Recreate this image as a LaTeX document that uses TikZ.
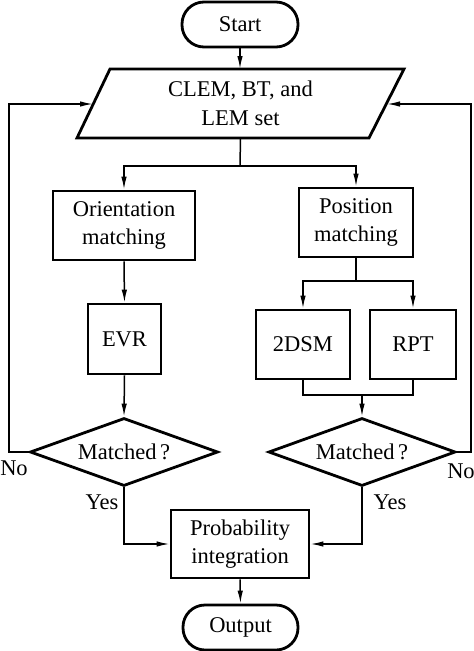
\documentclass[tikz,border=0pt]{standalone}
\usepackage{fontspec}
\setmainfont{Liberation Serif}
\usetikzlibrary{arrows.meta,shapes.geometric}
\begin{document}
\begin{tikzpicture}[x=1pt,y=-1pt,
  every node/.style={font=\fontsize{22.5}{28.5}\selectfont},
  box/.style={draw,line width=2.8pt,rectangle,inner sep=0pt,align=center},
  term/.style={draw,line width=2.8pt,rectangle,rounded corners=22pt,inner sep=0pt,minimum width=116pt,minimum height=45pt},
  dec/.style={draw,line width=2.8pt,diamond,shape aspect=2.76,inner sep=0pt,minimum width=188pt,minimum height=68pt},
  conn/.style={line width=1.5pt},
  arr/.style={conn,-{Latex[length=13pt,width=5.5pt]}},
  lbl/.style={inner sep=0pt}]
\useasboundingbox (0,0) rectangle (474,651);
% terminals
\node[term] (start) at (240,24.5) {Start};
% parallelogram input
\draw[line width=2.8pt,line join=miter] (110,69) -- (404,69) -- (369,138) -- (77,138) -- cycle;
\node[inner sep=0pt,minimum width=200pt,minimum height=69pt,align=center] (set) at (240.5,103.5) {CLEM, BT, and\\LEM set};
\coordinate (setL) at (93,104);
\coordinate (setR) at (387,104);
% boxes
\node[box,minimum width=142pt,minimum height=69pt] (orient) at (124,225.5) {Orientation\\matching};
\node[box,minimum width=114pt,minimum height=69pt] (pos) at (356,222.5) {Position\\matching};
\node[box,minimum width=73pt,minimum height=70pt] (evr) at (124.5,339) {EVR};
\node[box,minimum width=94pt,minimum height=69pt] (dsm) at (303,344.5) {2DSM};
\node[box,minimum width=86pt,minimum height=69pt] (rpt) at (413,344.5) {RPT};
\node[dec] (d1) at (124,452) {Matched\,?};
\node[dec,minimum width=187pt] (d2) at (362,452) {Matched\,?};
\node[box,minimum width=138pt,minimum height=68pt] (prob) at (240,544) {Probability\\integration};
\node[term,minimum width=115pt] (out) at (240.5,627.5) {Output};
% labels
\node[lbl] (no1) at (14,468) {No};
\node[lbl] (no2) at (461,471) {No};
\node[lbl] (yes1) at (102,502) {Yes};
\node[lbl] (yes2) at (390,502) {Yes};
% coordinates
\coordinate (br1) at (240,166);
\coordinate (br2) at (356,281);
\coordinate (br3) at (362,395);
\coordinate (lx) at (9,104);
\coordinate (rx) at (471,104);
% connectors
\draw[arr] (start.south) -- (240,69);
\draw[conn] (set.south) -- (br1);
\draw[arr] (br1) -| (orient.north);
\draw[arr] (br1) -| (pos.north);
\draw[arr] (orient.south) -- (evr.north);
\draw[arr] (evr.south) -- (d1.north);
\draw[conn] (pos.south) -- (br2);
\draw[arr] (br2) -| (dsm.north);
\draw[arr] (br2) -| (rpt.north);
\draw[conn] (dsm.south) |- (br3) -| (rpt.south);
\draw[arr] (br3) -- (d2.north);
\draw[arr] (d1.west) -| (lx) -- (setL);
\draw[arr] (d2.east) -| (rx) -- (setR);
\draw[arr] (d1.south) |- (prob.west);
\draw[arr] (d2.south) |- (prob.east);
\draw[arr] (prob.south) -- (out.north);
\end{tikzpicture}
\end{document}
